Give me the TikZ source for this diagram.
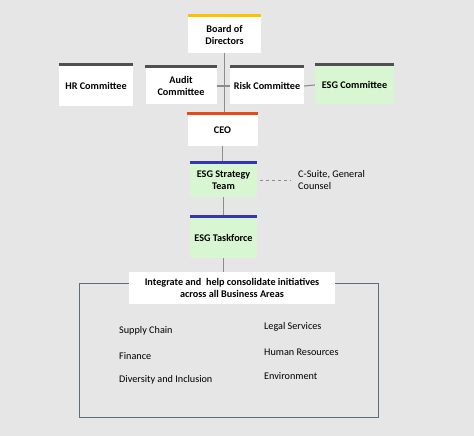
\documentclass[tikz,border=0pt]{standalone}
\usepackage{fontspec}
\setmainfont{Carlito}
\usepackage{xcolor}
\usetikzlibrary{positioning}

\definecolor{bggrey}{HTML}{E6E6E6}
\definecolor{esggreen}{HTML}{D9F6D2}
\definecolor{baryellow}{HTML}{FFC000}
\definecolor{barred}{HTML}{E84A1C}
\definecolor{barblue}{HTML}{3636B0}
\definecolor{bargrey}{HTML}{505050}
\definecolor{linkgrey}{HTML}{8C8C8C}
\definecolor{framecol}{HTML}{5A6E80}

\tikzset{
  orgbox/.style={fill=white, font=\bfseries\fontsize{10.2}{12}\selectfont,
    align=center, inner sep=1pt},
  greenbox/.style={orgbox, fill=esggreen},
  topbar/.style={line width=3.5pt},
  link/.style={linkgrey, line width=1.1pt},
  areatext/.style={anchor=west, font=\fontsize{10.2}{12}\selectfont, inner sep=0pt}
}

\begin{document}
\begin{tikzpicture}[x=1pt, y=-1pt]
    % Hintergrund
    \fill[bggrey] (0,0) rectangle (474,436);
    \useasboundingbox (0,0) rectangle (474,436);

    % Rahmen um die Geschaeftsbereiche
    \draw[framecol, line width=0.9pt] (79,283) rectangle (378,417);

    % Kaesten
    \node[orgbox, minimum width=73pt, minimum height=36pt] (bod) at (224.5,35) {Board of\\Directors};
    \node[orgbox, minimum width=74pt, minimum height=40pt] (hr) at (96,86) {HR Committee};
    \node[orgbox, minimum width=71pt, minimum height=36pt] (audit) at (181,86) {Audit\\Committee};
    \node[orgbox, minimum width=74pt, minimum height=36pt] (risk) at (267,86) {Risk Committee};
    \node[greenbox, minimum width=79pt, minimum height=38pt] (esgc) at (354.5,85) {ESG Committee};
    \node[orgbox, minimum width=70pt, minimum height=31pt] (ceo) at (222.5,130.5) {CEO};
    \node[greenbox, minimum width=67pt, minimum height=33pt] (strat) at (223.5,180.5) {ESG Strategy\\Team};
    \node[greenbox, minimum width=67pt, minimum height=40pt] (task) at (223.5,238) {ESG Taskforce};

    % Verbindungen
    \draw[link] (bod.south) -- (bod.south |- ceo.north);
    \draw[link] (audit.east) -- (risk.west);
    \draw[link] (risk.east) -- (esgc.west);
    \draw[link] (ceo.south) -- (ceo.south |- strat.north);
    \draw[link] (strat.south) -- (strat.south |- task.north);

    % Farbige Balken
    \draw[topbar, baryellow] ([yshift=1.5pt]bod.north west) -- ([yshift=1.5pt]bod.north east);
    \draw[topbar, bargrey] ([yshift=1.5pt]hr.north west) -- ([yshift=1.5pt]hr.north east);
    \draw[topbar, bargrey] ([yshift=1.5pt]audit.north west) -- ([yshift=1.5pt]audit.north east);
    \draw[topbar, bargrey] ([yshift=1.5pt]risk.north west) -- ([yshift=1.5pt]risk.north east);
    \draw[topbar, bargrey] ([yshift=1.5pt]esgc.north west) -- ([yshift=1.5pt]esgc.north east);
    \draw[topbar, barred] ([yshift=1.5pt]ceo.north west) -- ([yshift=1.5pt]ceo.north east);
    \draw[topbar, barblue] ([yshift=1.5pt]strat.north west) -- ([yshift=1.5pt]strat.north east);
    \draw[topbar, barblue] ([yshift=1.5pt]task.north west) -- ([yshift=1.5pt]task.north east);

    % C-Suite
    \node[areatext, align=left] (csuite) at (298,179.5) {C-Suite, General\\Counsel};
    \draw[linkgrey, dashed, line width=0.6pt] ([xshift=3pt]strat.east) -- ([xshift=-7pt]strat.east -| csuite.west);

    % Integrationskasten
    \node[orgbox, minimum width=206pt, minimum height=32pt] (integ) at (232,288)
        {Integrate and\ \ help consolidate initiatives\\across all Business Areas};
    \draw[link] (task.south) -- (task.south |- integ.north);

    % Bereiche
    \node[areatext] (supply) at (119,331) {Supply Chain};
    \node[areatext] (finance) at (119,356) {Finance};
    \node[areatext] (divers) at (119,380) {Diversity and Inclusion};
    \node[areatext] (legal) at (264,327) {Legal Services};
    \node[areatext] (human) at (264,352) {Human Resources};
    \node[areatext] (envir) at (264,376) {Environment};
\end{tikzpicture}
\end{document}
